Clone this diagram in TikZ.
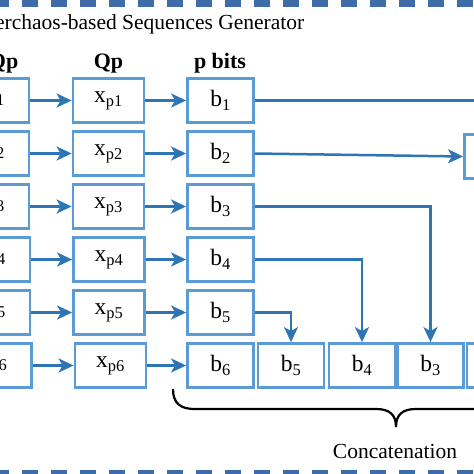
\documentclass[tikz,border=0pt]{standalone}
\usepackage{fontspec}
\setmainfont{Liberation Serif}
\usetikzlibrary{arrows.meta}
\definecolor{boxblue}{RGB}{91,155,213}
\definecolor{arrblue}{RGB}{46,117,182}
\definecolor{dashblue}{RGB}{62,108,168}
\begin{document}
\begin{tikzpicture}[x=1pt,y=-1pt,
  txt/.style={font=\fontsize{21.5}{24}\selectfont, inner sep=0pt},
  box/.style={draw=boxblue, line width=2.8pt, minimum width=66pt, minimum height=44pt, inner sep=0pt, font=\fontsize{23.5}{26}\selectfont},
  arr/.style={draw=arrblue, line width=2.5pt, -{Stealth[length=15pt,width=14pt,inset=4pt]}},
  conn/.style={draw=arrblue, line width=2.5pt},
  hd/.style={font=\fontsize{22}{24}\selectfont\bfseries, inner sep=0pt},
  dashrule/.style={draw=dashblue, line width=7pt, dash pattern=on 16pt off 13pt, dash phase=7pt},
  brace/.style={draw=black, line width=2.2pt}
]
\useasboundingbox (0,0) rectangle (474,474);
\clip (0,0) rectangle (474,474);

% dashed frame lines
\coordinate (tl) at (0,3);
\coordinate (tr) at (474,3);
\coordinate (bl) at (0,473);
\coordinate (br) at (474,473);
\draw[dashrule] (tl) -- (tr);
\draw[dashrule] (bl) -- (br);

% title and headings
\node[txt, anchor=base east] (title) at (304.5,29) {erchaos-based Sequences Generator};
\node[hd, anchor=base east] (h1) at (18.5,68) {Qp};
\node[hd, anchor=base] (h2) at (108.5,68) {Qp};
\node[hd, anchor=base] (h3) at (220,68) {p bits};

% rows
\foreach \i/\y/\a/\b in {1/100.5/-5.5/108.5, 2/153.5/-5.5/108.5, 3/206.5/-5.5/108.5, 4/259.5/-4.5/109, 5/312.5/-4.5/109, 6/365.5/-3/110.5}{
  \node[box, minimum width=69pt] (a\i) at (\a,\y) {\hphantom{x}\textsubscript{\i}};
  \node[box, minimum width=71pt] (x\i) at (\b,\y) {x\textsubscript{p\i}};
  \node[box] (b\i) at (220.5,\y) {b\textsubscript{\i}};
  \draw[arr] (a\i) -- (x\i);
  \draw[arr] (x\i) -- (b\i);
}

% right box
\node[box, anchor=west] (rb) at (463,156.5) {};

% concatenated row
\node[box] (d5) at (291,365.5) {b\textsubscript{5}};
\node[box] (d4) at (362,365.5) {b\textsubscript{4}};
\node[box] (d3) at (430.5,365.5) {b\textsubscript{3}};
\node[box] (d2) at (500,365.5) {};

% connectors
\coordinate (e1) at (480,100.5);
\draw[conn] (b1.east) -- (e1);
\draw[arr] (b2.east) -- (rb.west);
\draw[arr] (b3.east) -| (d3.north);
\draw[arr] (b4.east) -| (d4.north);
\draw[arr] (b5.east) -| (d5.north);

% brace
\draw[brace] (173,389) .. controls (173,403) and (180,409) .. (195,409) -- (376,409)
  .. controls (390,409) and (396,415) .. (396,427)
  .. controls (396,415) and (402,409) .. (416,409) -- (600,409);

\node[txt, anchor=base] (cat) at (395,458) {Concatenation};
\end{tikzpicture}
\end{document}
